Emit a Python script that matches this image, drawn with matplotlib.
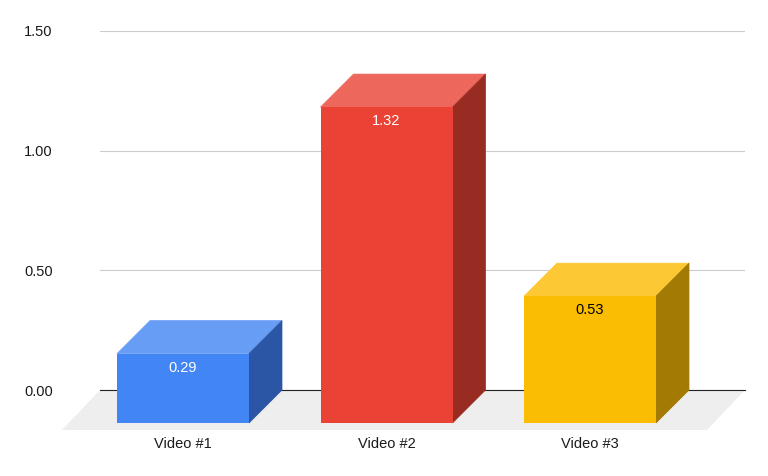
import matplotlib
matplotlib.use('Agg')
import matplotlib.pyplot as plt
from matplotlib.patches import Polygon

plt.rcParams['font.family'] = ['Liberation Sans', 'DejaVu Sans']

categories = ['Video #1', 'Video #2', 'Video #3']
values = [0.29, 1.32, 0.53]
value_labels = ['0.29', '1.32', '0.53']
front_colors = ['#4285f4', '#ea4335', '#fbbc04']
top_colors = ['#689df6', '#ee675c', '#fcc934']
side_colors = ['#2a56a5', '#982b22', '#a37a03']
label_colors = ['white', 'white', 'black']
y_ticks = [0.0, 0.5, 1.0, 1.5]

# pixel layout of the reference
W, H = 768, 476
px_left, px_right, px_zero, px_top = 100, 745, 390, 31
spacing = 203.5
back_center = 216

fig = plt.figure(figsize=(W / 100, H / 100), dpi=100)
ax = fig.add_axes([px_left / W, 1 - px_zero / H, (px_right - px_left) / W, (px_zero - px_top) / H])
ax.set_ylim(0, 1.5)
ax.set_xlim((px_left - back_center) / spacing, (px_right - back_center) / spacing)

per_y = (px_zero - px_top) / 1.5
dx = 33 / spacing   # depth of the 3d effect, x data units
dy = 33 / per_y     # same, y data units
width = 132 / spacing

# floor
x0, x1 = ax.get_xlim()
floor_dy = 40 / per_y
floor_dx = 38 / spacing
ax.add_patch(Polygon([(x0, 0), (x1, 0), (x1 - floor_dx, -floor_dy), (x0 - floor_dx, -floor_dy)],
                     facecolor='#eeeeee', edgecolor='none', clip_on=False, zorder=1))

ax.set_yticks(y_ticks)
ax.set_yticklabels([f'{t:.2f}' for t in y_ticks])
ax.grid(axis='y', color='#cccccc', linewidth=0.8)
ax.grid(axis='x', visible=False)
ax.set_axisbelow(True)
ax.axhline(0, color='#222222', linewidth=0.8, zorder=1.5, clip_on=False)

xs = list(range(len(categories)))
front_x = [x - dx for x in xs]

for x, v, top_c, side_c in zip(front_x, values, top_colors, side_colors):
    l, r = x - width / 2, x + width / 2
    ftop = v - dy
    ax.add_patch(Polygon([(l, ftop), (r, ftop), (r + dx, v), (l + dx, v)],
                         facecolor=top_c, edgecolor=top_c, linewidth=0.5, clip_on=False, zorder=3))
    ax.add_patch(Polygon([(r, -dy), (r, ftop), (r + dx, v), (r + dx, 0)],
                         facecolor=side_c, edgecolor=side_c, linewidth=0.5, clip_on=False, zorder=3))

ax.bar(front_x, values, width=width, bottom=-dy, color=front_colors, clip_on=False, zorder=3.5)

for x, v, lab, c in zip(front_x, values, value_labels, label_colors):
    ax.annotate(lab, (x, v - dy), xytext=(0, -14), textcoords='offset pixels',
                ha='center', va='center', color=c, fontsize=10.5, zorder=4)

ax.set_xticks(front_x)
ax.set_xticklabels(categories)
ax.tick_params(axis='x', length=0, pad=34, labelsize=10.5, colors='#1a1a1a')
ax.tick_params(axis='y', length=0, pad=34, labelsize=10.5, colors='#1a1a1a')
for s in ax.spines.values():
    s.set_visible(False)

fig.savefig('out.png', dpi=100)
